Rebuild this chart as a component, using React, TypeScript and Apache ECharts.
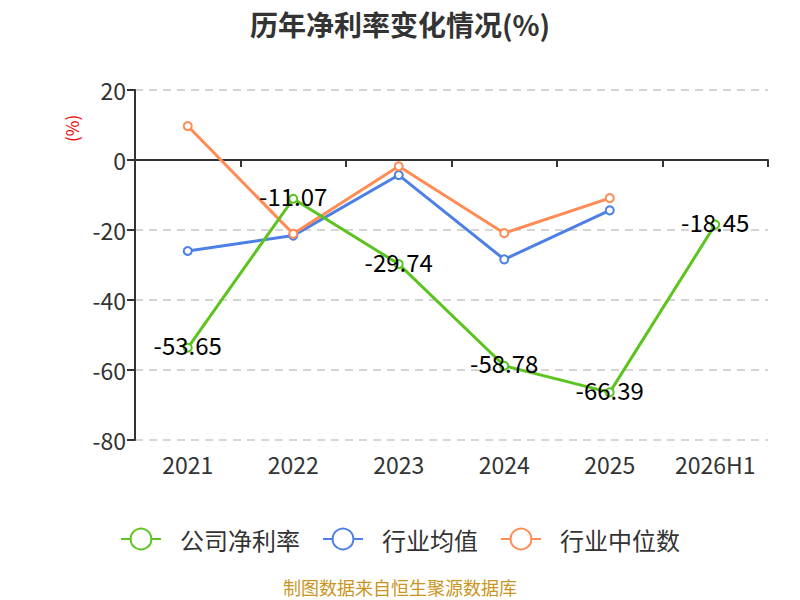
import React, { useEffect, useRef } from "react";
import * as echarts from "echarts";

const categories = ["2021", "2022", "2023", "2024", "2025", "2026H1"];
const companyValues = [-53.65, -11.07, -29.74, -58.78, -66.39, -18.45];
const industryMean = [-26.0, -21.6, -4.3, -28.4, -14.4, null];
const industryMedian = [9.7, -21.1, -1.8, -20.9, -10.9, null];
const seriesNames = ["公司净利率", "行业均值", "行业中位数"];
const colors = ["#5cc41f", "#4d80e6", "#ff8c55"];

export default function App() {
  const ref = useRef<HTMLDivElement>(null);
  useEffect(() => {
    if (!ref.current) return;
    const chart = echarts.init(ref.current, undefined, { renderer: "svg" });
    const font = "'Microsoft YaHei', 'Noto Sans CJK SC', 'Noto Sans', sans-serif";
    const mk = (name: string, data: any[], color: string, label: boolean) => ({
      name,
      type: "line",
      data,
      symbol: "emptyCircle",
      symbolSize: 8,
      lineStyle: { width: 3, color },
      itemStyle: { color, borderWidth: 2 },
      label: label
        ? {
            show: true,
            position: "inside",
            offset: [0, -3],
            color: "#000",
            fontSize: 24,
            fontFamily: font,
            formatter: (p: any) => p.value.toFixed(2),
          }
        : { show: false },
      z: label ? 3 : 2,
    });
    chart.setOption({
      animation: false,
      color: colors,
      textStyle: { fontFamily: font },
      title: {
        text: "历年净利率变化情况(%)",
        left: "center",
        top: 5,
        textStyle: { fontSize: 28, fontWeight: "bold", color: "#333", fontFamily: font },
      },
      legend: {
        bottom: 44,
        left: "center",
        itemWidth: 40,
        itemHeight: 26,
        itemGap: 22,
        textStyle: { fontSize: 24, color: "#333", fontFamily: font, padding: [0, 0, 0, 14] },
        data: seriesNames,
      },
      grid: { left: 135, right: 32, top: 90, bottom: 160 },
      xAxis: {
        type: "category",
        data: categories,
        boundaryGap: true,
        axisLine: { onZero: true, lineStyle: { color: "#333", width: 2 } },
        axisTick: { show: true, length: 7, lineStyle: { color: "#333", width: 2 } },
        axisLabel: {
          color: "#333",
          fontSize: 23,
          fontFamily: font,
          interval: 0,
          margin: 12,
        },
        position: "bottom",
      },
      yAxis: {
        type: "value",
        min: -80,
        max: 20,
        interval: 20,
        axisLine: { show: true, lineStyle: { color: "#333", width: 2 } },
        axisTick: { show: true, length: 8, lineStyle: { color: "#333", width: 2 } },
        axisLabel: { color: "#333", fontSize: 23, fontFamily: font, margin: 9 },
        splitLine: { show: true, lineStyle: { type: [8, 6], color: "#c8c8c8", width: 1.5 } },
      },
      graphic: [
        {
          type: "text",
          x: 63,
          y: 142,
          rotation: Math.PI / 2,
          style: { text: "(%)", fill: "#e00", fontSize: 17, fontFamily: font },
        },
        {
          type: "text",
          left: "center",
          top: 578,
          style: { text: "制图数据来自恒生聚源数据库", fill: "#c8961e", fontSize: 18, fontFamily: font },
        },
      ],
      series: [
        mk(seriesNames[0], companyValues, colors[0], true),
        mk(seriesNames[1], industryMean, colors[1], false),
        mk(seriesNames[2], industryMedian, colors[2], false),
      ],
    });
    return () => chart.dispose();
  }, []);
  return (
    <div
      ref={ref}
      style={{ position: "absolute", left: 0, top: 0, width: 800, height: 600, background: "#fff" }}
    />
  );
}
